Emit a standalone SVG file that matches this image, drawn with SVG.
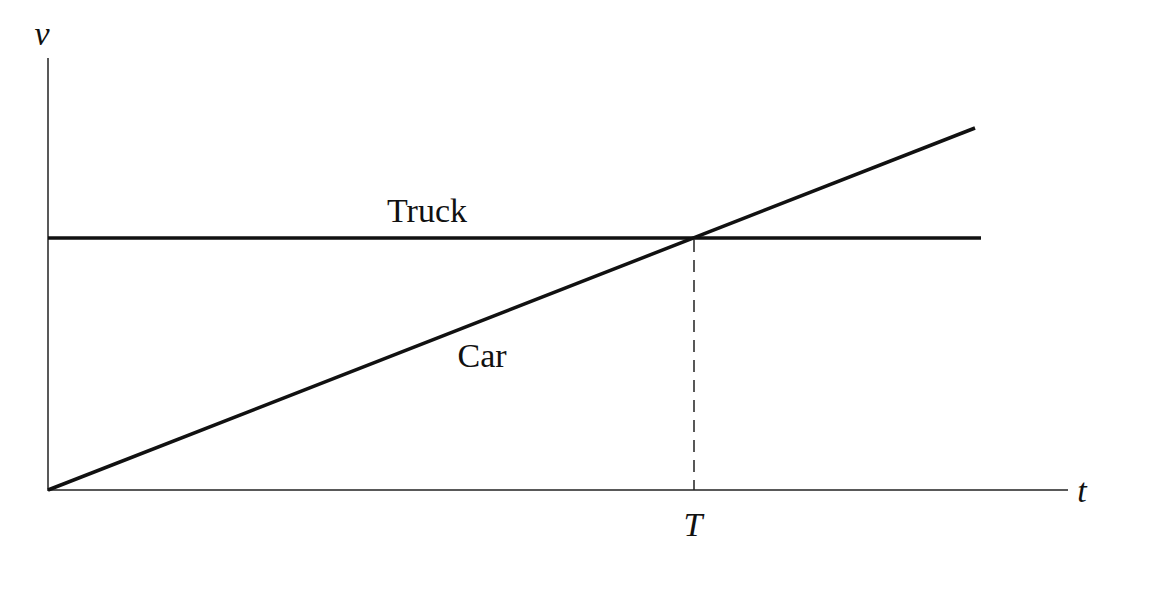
<svg xmlns="http://www.w3.org/2000/svg" width="1154" height="614" viewBox="0 0 1154 614">
<style>
.ax{stroke:#222;stroke-width:1.5;fill:none}
.ln{stroke:#111;stroke-width:3.5;fill:none}
.tx{font-family:"Liberation Serif",serif;font-size:34px;fill:#111}
.it{font-style:italic}
</style>
<rect width="1154" height="614" fill="#fff"/>
<g id="connectors">
<line class="ax" x1="48" y1="58" x2="48" y2="491"/>
<line class="ax" x1="48" y1="490" x2="1068" y2="490"/>
<line class="ln" x1="48" y1="238" x2="981" y2="238"/>
<line class="ln" x1="48" y1="490" x2="975" y2="128"/>
<line class="ax" x1="694" y1="240" x2="694" y2="490" stroke-dasharray="12,8"/>
</g>
<g id="labels">
<text class="tx it" x="42" y="45" text-anchor="middle">v</text>
<text class="tx it" x="1082" y="502" text-anchor="middle">t</text>
<text class="tx it" x="693" y="536" text-anchor="middle">T</text>
<text class="tx" x="427" y="222" text-anchor="middle">Truck</text>
<text class="tx" x="482" y="367" text-anchor="middle">Car</text>
</g>
</svg>
